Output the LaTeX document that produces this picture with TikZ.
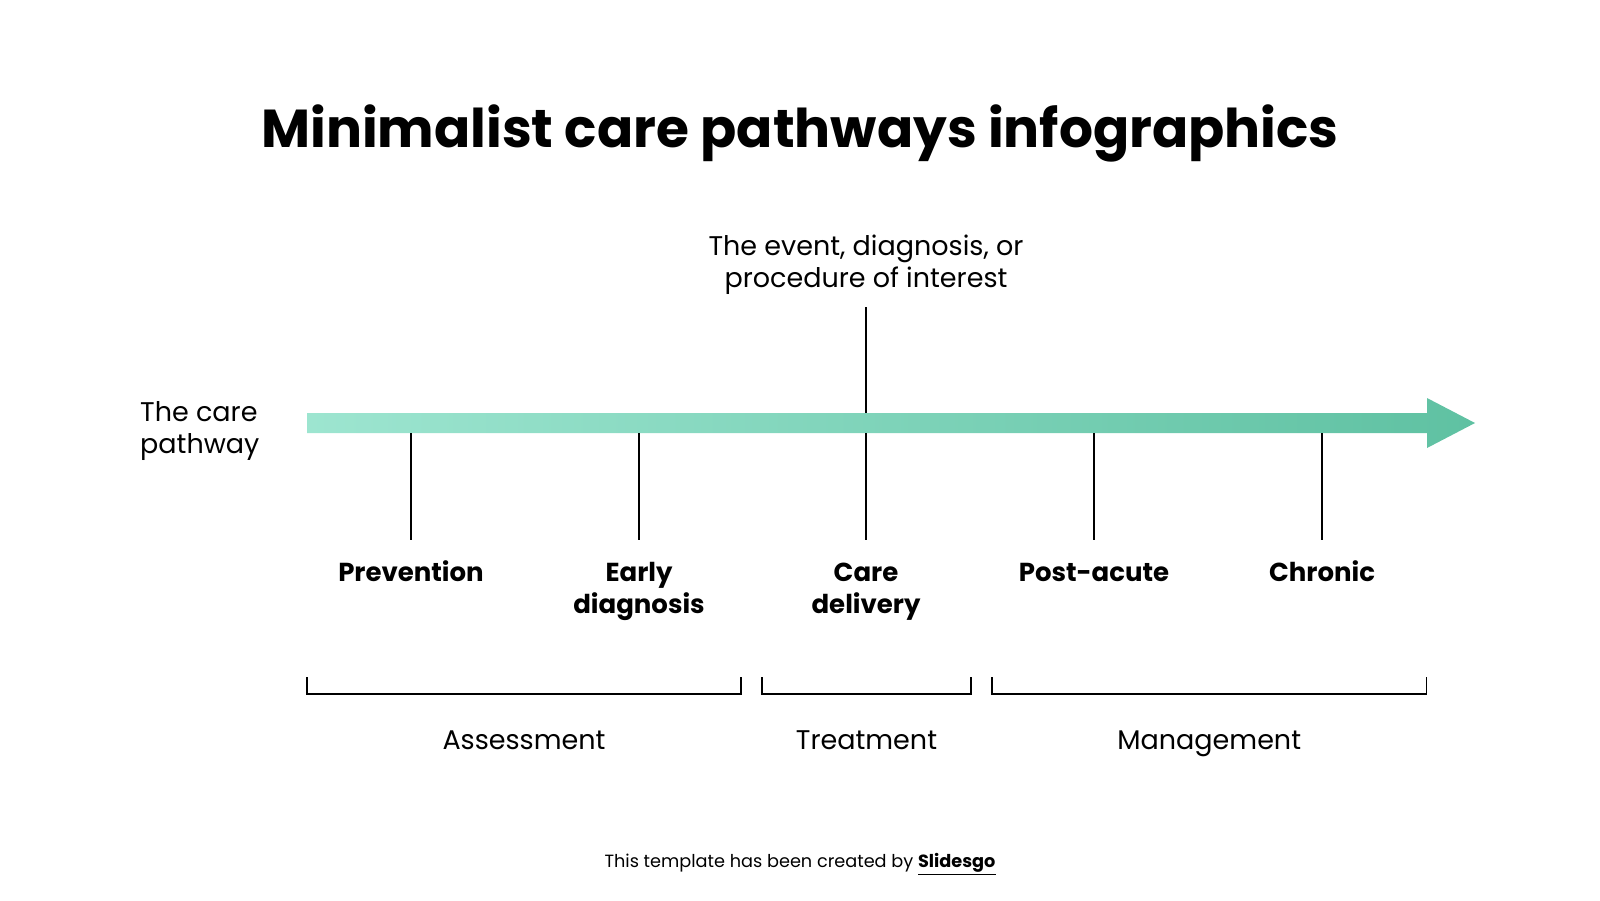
\documentclass[tikz,border=0pt]{standalone}
\usepackage{fontspec}
\setmainfont{Poppins}
\usetikzlibrary{positioning}
\definecolor{barL}{HTML}{9DE5D0}
\definecolor{barR}{HTML}{5FC1A2}
\tikzset{
  body/.style={font=\fontsize{27}{32}\selectfont, align=center, inner sep=0pt, anchor=north},
  phase/.style={font=\fontsize{26}{32}\selectfont\bfseries, align=center, inner sep=0pt, anchor=north},
  tick/.style={line width=1.5pt, black},
  brack/.style={line width=1.8pt, black},
}
\begin{document}
\begin{tikzpicture}[x=1pt,y=-1pt]
\useasboundingbox (0,0) rectangle (1600,900);
% title
\node[font=\fontsize{53.4}{60}\selectfont\bfseries, inner sep=0pt] (title) at (800,133) {Minimalist care pathways infographics};
% event text
\node[body] (event) at (866,232.5) {\strut The event, diagnosis, or\\procedure of interest};
% care pathway
\node[body, align=left, anchor=north west] (pathway) at (140,398.5) {\strut The care\\pathway};
% arrow
\shade[left color=barL, right color=barR] (307,413) -- (1427,413) -- (1427,398) -- (1475,423) -- (1427,448) -- (1427,433) -- (307,433) -- cycle;
\coordinate (evtop) at (866,307);
\coordinate (evbar) at (866,413);
\draw[tick] (evtop) -- (evbar);
% ticks and labels
\foreach \x/\n/\t in {411/p1/Prevention, 639/p2/Early\\diagnosis, 866/p3/Care\\delivery, 1094/p4/Post-acute, 1322/p5/Chronic}{
  \coordinate (\n b) at (\x,433);
  \coordinate (\n e) at (\x,540);
  \node[phase] (\n) at (\x,559) {\strut\t};
  \draw[tick] (\n b) -- (\n e);
}
% brackets
\foreach \a/\b/\n/\t in {307/741/g1/Assessment, 762/971/g2/Treatment, 992/1426.5/g3/Management}{
  \coordinate (\n l) at (\a,677);
  \coordinate (\n r) at (\b,677);
  \draw[brack] (\n l) -- ++(0,17) -| (\n r);
  \node[body] (\n) at ({(\a+\b)/2},727) {\strut\t};
}
% footer
\node[font=\fontsize{17.7}{20}\selectfont, inner sep=0pt] (footer) at (800,864) {This template has been created by \textbf{\underline{Slidesgo}}};
\end{tikzpicture}
\end{document}
